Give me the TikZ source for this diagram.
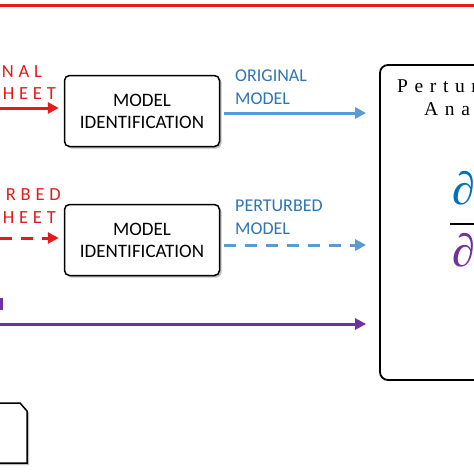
\documentclass[tikz,border=0pt]{standalone}
\usepackage{amsmath}
\usepackage{amssymb}
\usepackage{fontspec}
\setmainfont{Carlito}
\newfontfamily\serifwide{Liberation Serif}[LetterSpace=34]
\newfontfamily\deefont{Liberation Serif}
\newcommand{\lgap}{\hspace{4.8pt}}
\usetikzlibrary{arrows.meta,shadows}
\definecolor{sheetred}{RGB}{228,26,28}
\definecolor{modelblue}{RGB}{91,155,213}
\definecolor{labelblue}{RGB}{46,117,182}
\definecolor{inputpurple}{RGB}{112,48,160}
\definecolor{partialblue}{RGB}{0,112,192}

\begin{document}
\begin{tikzpicture}
  [x=1pt, y=-1pt,
   idbox/.style={draw, line width=1.5pt, rounded corners=5pt, fill=white,
     minimum width=155pt, minimum height=71pt, align=center,
     font=\fontsize{19}{22}\selectfont,
     drop shadow={shadow xshift=2pt, shadow yshift=-2pt, opacity=.5}},
   anabox/.style={draw, line width=1.8pt, rounded corners=8pt,
     minimum width=190pt, minimum height=315pt},
   flow/.style={line width=3pt, -{Triangle[length=11pt,width=11pt]}},
   sheet/.style={text=sheetred, font=\fontsize{18.5}{22}\selectfont, inner sep=0pt, anchor=base east},
   lbl/.style={text=labelblue, font=\fontsize{18}{23}\selectfont, align=left,
     inner sep=0pt, anchor=north west},
   wide/.style={font=\fontsize{19.5}{22}\serifwide, inner sep=0pt, anchor=base west},
   dee/.style={font=\fontsize{46}{46}\deefont\itshape, inner sep=0pt, anchor=base west}]
  \path[use as bounding box, fill=white] (0,0) rectangle (474,474);
  \clip (0,0) rectangle (474,474);

  % spreadsheet inputs coming in from the left
  \coordinate (s1) at (0,108);
  \coordinate (s2) at (0,238);
  \coordinate (s3) at (0,324);
  \coordinate (tl) at (0,5);
  \coordinate (tr) at (474,5);

  \node[idbox] (id1) at (142,111) {MODEL\\IDENTIFICATION};
  \node[idbox] (id2) at (142,240) {MODEL\\IDENTIFICATION};
  \node[anabox] (pa) at (475,222.5) {};

  \node[sheet] (o1) at (42,77) {N\lgap A\lgap L};
  \node[sheet] (o2) at (56,99) {H\lgap E\lgap E\lgap T};
  \node[sheet] (p1) at (61,200) {R\lgap B\lgap E\lgap D};
  \node[sheet] (p2) at (56,223) {H\lgap E\lgap E\lgap T};

  \node[lbl] (m1) at (235,70) {ORIGINAL\\MODEL};
  \node[lbl] (m2) at (235,200) {PERTURBED\\MODEL};

  \node[wide] (pa1) at (397,92) {Pertur};
  \node[wide] (pa2) at (424,115) {Anal};
  \node[dee, text=partialblue] (dy) at (452,204) {∂};
  \node[dee, text=inputpurple] (dx) at (452,266) {∂};
  \draw[line width=2pt] (450,224) -- (480,224);

  \draw[sheetred, line width=3pt] (tl) -- (tr);
  \draw[flow, sheetred, shorten >=5pt] (s1) -- (s1 -| id1.west);
  \draw[flow, sheetred, dash pattern=on 12pt off 9pt, shorten >=5pt] (s2) -- (s2 -| id2.west);
  \draw[flow, modelblue, shorten <=4pt, shorten >=13pt]
    ([yshift=-2pt]id1.east) -- ([yshift=-2pt]id1.east -| pa.west);
  \draw[flow, modelblue, dash pattern=on 12pt off 9pt, shorten <=4pt, shorten >=13pt]
    ([yshift=-5pt]id2.east) -- ([yshift=-5pt]id2.east -| pa.west);
  \draw[flow, inputpurple, shorten >=13pt] (s3) -- (s3 -| pa.west);

  \fill[inputpurple] (0,298) rectangle (3,310);
  \draw[line width=1.5pt, fill=white,
    drop shadow={shadow xshift=2pt, shadow yshift=-2pt, opacity=.5}]
    (-5,403) -- (20,403) -- (27,411) -- (27,463) -- (-5,463) -- cycle;
\end{tikzpicture}
\end{document}
